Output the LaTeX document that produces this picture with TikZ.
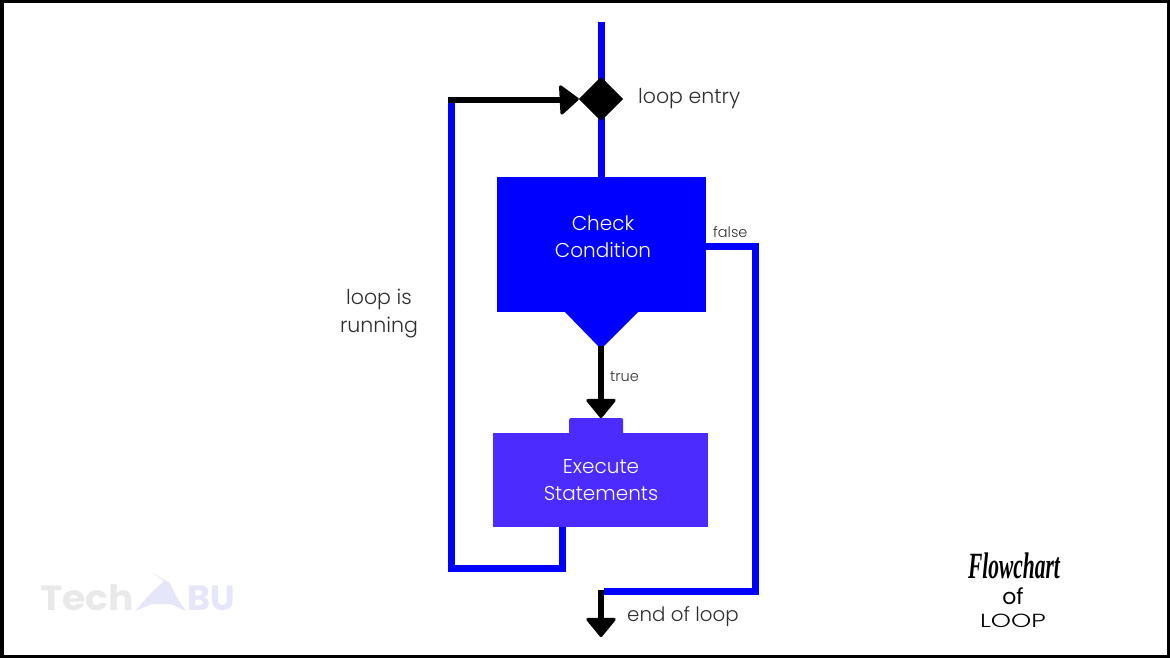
\documentclass[tikz,border=0pt]{standalone}
\usepackage{fontspec}
\setmainfont{Poppins Light}
\newfontfamily\titlefont{Liberation Serif}
\newfontfamily\markfont{Poppins}
\newfontfamily\offont{Poppins}
\usetikzlibrary{arrows.meta,shapes.geometric}
\definecolor{loopblue}{HTML}{0000FF}
\definecolor{execblue}{HTML}{4B2BFF}
\definecolor{labelgray}{HTML}{2E2E2E}
\definecolor{marklav}{HTML}{E6E6FB}
\definecolor{markgray}{HTML}{E9E9E9}
\tikzset{
  blueline/.style={draw=loopblue,line width=7pt},
  blackline/.style={draw=black,line width=6pt},
  tipline/.style={blackline,-{Triangle[length=20pt,width=32pt,round,line width=3pt]}},
  boxtext/.style={text=white,font=\fontsize{20}{27}\selectfont,align=center},
  looptext/.style={text=labelgray,font=\fontsize{20.5}{28}\selectfont,align=center},
  smalltext/.style={text=labelgray,font=\fontsize{14.5}{17}\selectfont}
}
\begin{document}
\begin{tikzpicture}[x=1pt,y=-1pt]
\useasboundingbox (0,0) rectangle (1170,658);
\draw[line width=7pt] (0,0) rectangle (1170,658);

\coordinate (top) at (601,22);
\coordinate (backstart) at (448,100);
\coordinate (backcorner) at (451,568);
\coordinate (backend) at (562,568);
\coordinate (falsecorner) at (755,246);
\coordinate (falseend) at (755,591);
\coordinate (outstart) at (601,590);
\coordinate (outend) at (601,637);

%connectors under the shapes
\node[diamond,fill=black,minimum size=44pt,inner sep=0pt] (entry) at (601,99) {};
\draw[blueline] (top) -- (entry.center);
\draw[blueline] (entry.center) -- (601,180);

\node[rectangle,fill=loopblue,minimum width=209pt,minimum height=135pt,inner sep=0pt] (check) at (601.5,244.5) {};
\fill[loopblue] (564,311) -- (639,311) -- (601,349) -- cycle;
\coordinate (checktip) at (601,346);

\node[rectangle,fill=execblue,minimum width=215pt,minimum height=94pt,inner sep=0pt] (exec) at (600.5,480) {};
\fill[execblue,rounded corners=1.5pt] (569,435) -- (569,418) -- (623,418) -- (623,435) -- cycle;
\coordinate (exectab) at (601,418);

\draw[blueline] (backend |- exec.south) -- (backend) -- (448,568);
\draw[blueline] (backcorner) -- (451,103);
\draw[blackline] (backstart) -- (560,100);
\draw[tipline] (560,100) -- (entry.west);
\draw[blueline] (check.east |- falsecorner) -- (falsecorner) -- (falseend) -- (604,591);
\draw[tipline] (checktip) -- (exectab);
\draw[tipline] (outstart) -- (outend);

\node[diamond,fill=black,minimum size=44pt,inner sep=0pt] at (entry) {};

\node[boxtext] (checklabel) at (603,237) {Check\\Condition};
\node[boxtext] (execlabel) at (601,480) {Execute\\Statements};
\node[looptext,anchor=west,inner sep=0pt] (entrylabel) at (638,99) {loop entry};
\node[looptext] (runlabel) at (379,314) {loop is\\running};
\node[looptext,anchor=west,inner sep=0pt,font=\fontsize{19.8}{28}\selectfont] (endlabel) at (627,617) {end of loop};
\node[smalltext,anchor=west,inner sep=0pt] (falselabel) at (713,232) {false};
\node[smalltext,anchor=west,inner sep=0pt] (truelabel) at (610,377) {true};

%title in the corner
\node[font=\titlefont\bfseries\itshape\fontsize{37}{38}\selectfont,inner sep=0pt,xscale=.58] (titlea) at (1014,566) {Flowchart};
\node[font=\offont\fontsize{22}{23}\selectfont,inner sep=0pt] (titleb) at (1013,596) {of};
\node[font=\fontsize{19}{20}\selectfont,inner sep=0pt,xscale=1.35] (titlec) at (1013,621) {LOOP};

%watermark
\node[text=markgray,font=\markfont\bfseries\fontsize{35}{36}\selectfont,anchor=west,inner sep=0pt,xscale=1.08] (marktech) at (40,598) {Tech};
\fill[marklav] (135,611) -- (152,592) -- (164,581) -- (151,572) -- (170,583) -- (176,596) -- (186,611) -- (170,604) -- (152,604) -- cycle;
\node[text=marklav,font=\markfont\bfseries\fontsize{35}{36}\selectfont,anchor=west,inner sep=0pt] (markbu) at (187,598) {BU};
\end{tikzpicture}
\end{document}
